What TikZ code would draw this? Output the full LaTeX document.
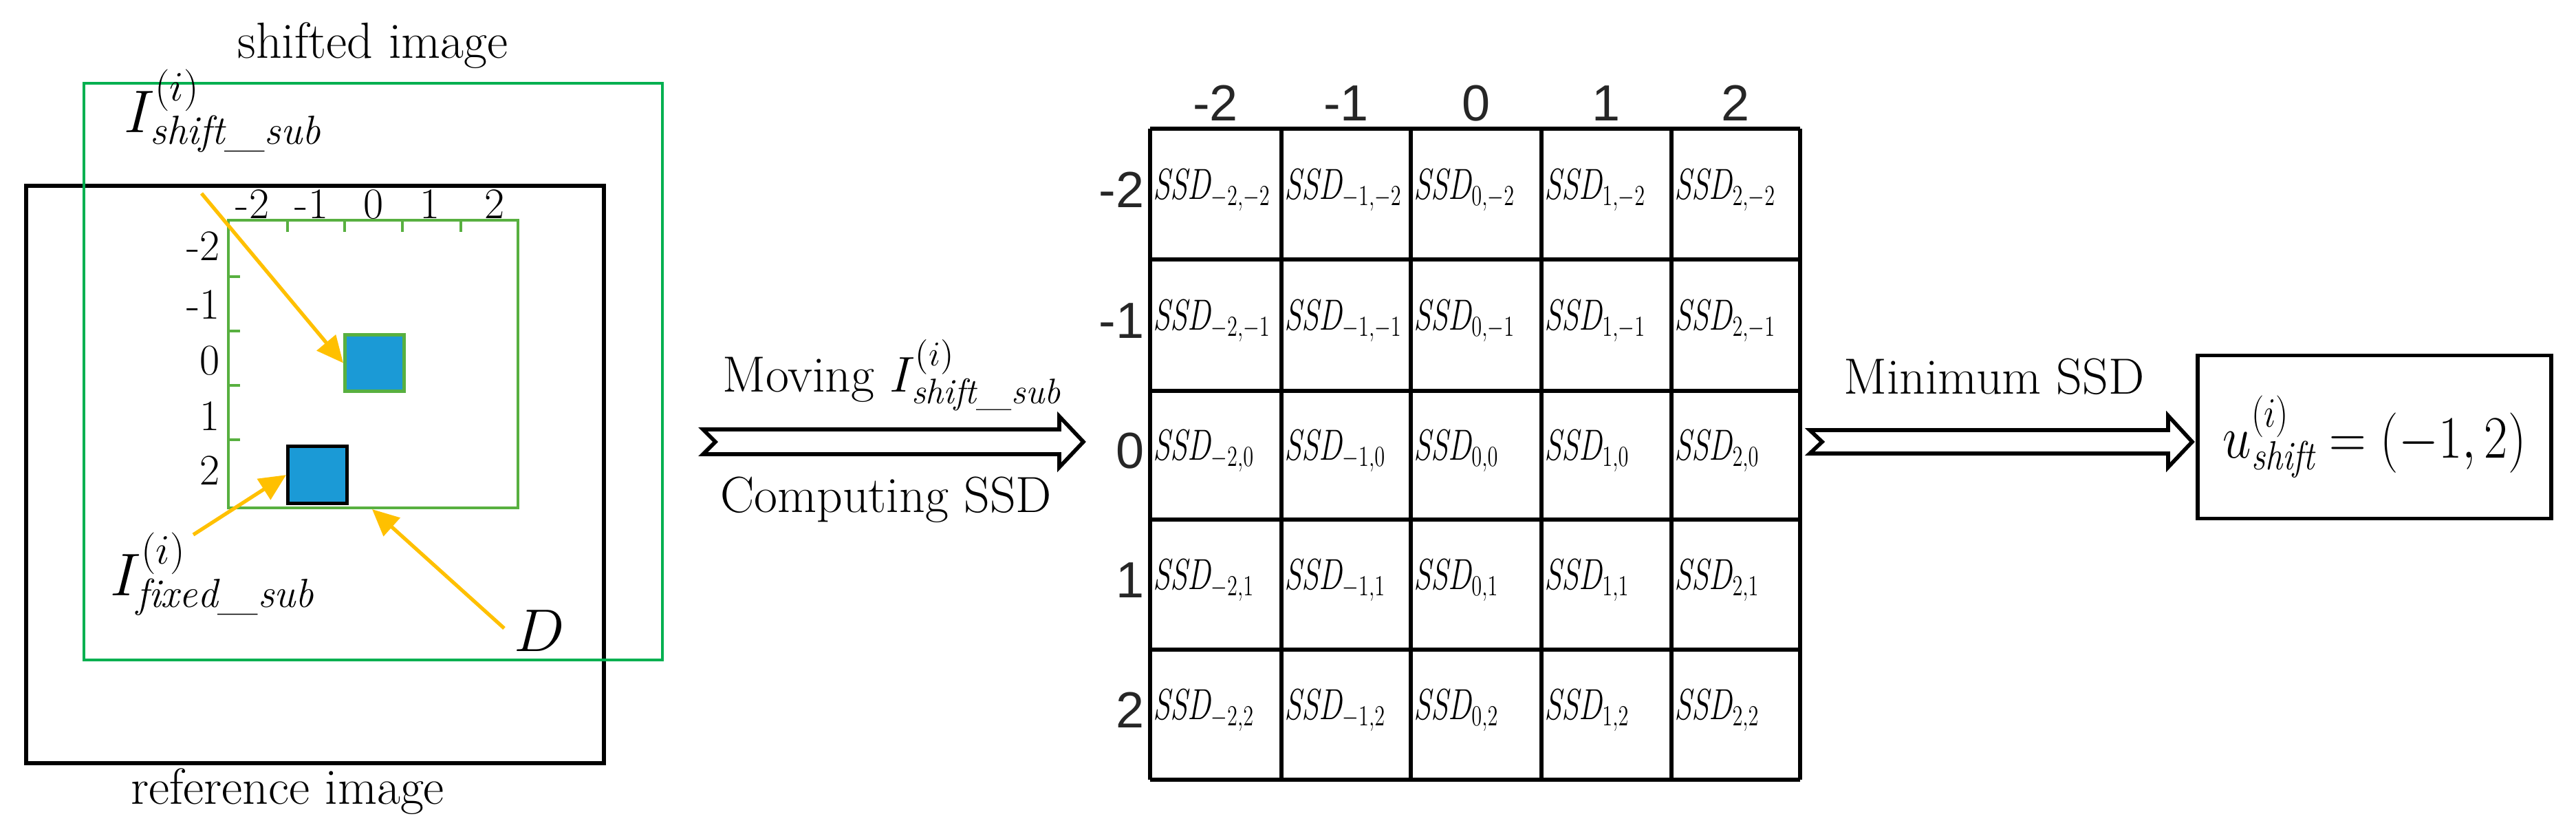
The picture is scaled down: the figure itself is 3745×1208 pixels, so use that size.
\documentclass[tikz,border=0pt]{standalone}
\usepackage{fontspec}
\usepackage{graphicx}
\newfontfamily\sansf{Liberation Sans}
\usetikzlibrary{arrows.meta}
\begin{document}
\begin{tikzpicture}[x=0.01cm,y=-0.01cm,
  dbl/.style={draw=black,line width=1.6pt,fill=white},
  lbl/.style={font=\fontsize{21}{24}\selectfont,inner sep=0pt},
  ax/.style={font=\fontsize{18}{20}\selectfont,inner sep=0pt},
  sax/.style={font=\sansf\fontsize{21}{24}\selectfont,text=black!85,inner sep=0pt},
  ssd/.style={font=\fontsize{18}{20}\selectfont,inner sep=0pt,anchor=west},
  oarr/.style={draw=org,line width=1.5pt,-{Triangle[length=11pt,width=10pt]}}]
\definecolor{gbig}{RGB}{0,176,80}
\definecolor{ginn}{RGB}{88,176,64}
\definecolor{blu}{RGB}{27,154,214}
\definecolor{org}{RGB}{255,192,0}
\useasboundingbox (0,0) rectangle (3745,1208);
% left panel
\draw[line width=1.6pt] (38,270) rectangle (878,1109);
\draw[draw=gbig,line width=1.4pt] (122,121) rectangle (963,959);
\draw[draw=ginn,line width=1.2pt] (332,320) rectangle (753,738);
\foreach \x in {418,501,585,670} \draw[draw=ginn,line width=1.2pt] (\x,320) -- (\x,337);
\foreach \y in {402,481,560,639} \draw[draw=ginn,line width=1.2pt] (332,\y) -- (349,\y);
\node[ax] (tx1) at (367,297) {-2};
\node[ax] (tx2) at (453,297) {-1};
\node[ax] (tx3) at (543,297) {0};
\node[ax] (tx4) at (625,297) {1};
\node[ax] (tx5) at (719,297) {2};
\node[ax,anchor=east] (ty1) at (320,358) {-2};
\node[ax,anchor=east] (ty2) at (320,443) {-1};
\node[ax,anchor=east] (ty3) at (320,524) {0};
\node[ax,anchor=east] (ty4) at (320,605) {1};
\node[ax,anchor=east] (ty5) at (320,684) {2};
\node[draw=ginn,fill=blu,line width=1.4pt,inner sep=0pt,anchor=north west,minimum width=0.86cm,minimum height=0.82cm] (b1) at (499,484) {};
\node[draw=black,fill=blu,line width=1.5pt,inner sep=0pt,anchor=north west,minimum width=0.86cm,minimum height=0.83cm] (b2) at (416,646) {};
\node[lbl] (shl) at (542,66) {shifted image};
\node[lbl] (rfl) at (418,1150) {reference image};
\node[font=\fontsize{24}{26}\selectfont,anchor=south west,inner sep=0pt] (ishift) at (180,222) {$I^{(i)}_{\mathit{shift\_sub}}$};
\node[font=\fontsize{24}{26}\selectfont,anchor=south west,inner sep=0pt] (ifixed) at (160,895) {$I^{(i)}_{\mathit{fixed\_sub}}$};
\node[font=\fontsize{28}{30}\selectfont,inner sep=0pt] (dl) at (784,917) {$D$};
\coordinate (s1) at (293,281);
\coordinate (f1) at (281,777);
\coordinate (d1) at (733,913);
\coordinate (d2) at (541,740);
\draw[oarr] (s1) -- (b1.west);
\draw[oarr] (f1) -- (b2.west);
\draw[oarr] (d1) -- (d2);
% arrow 1
\draw[dbl] (1022,624) -- (1540,624) -- (1540,605) -- (1575,642) -- (1540,679) -- (1540,660) -- (1022,660) -- (1040,642) -- cycle;
\node[lbl,anchor=west] (mv) at (1050,545) {Moving $I^{(i)}_{\mathit{shift\_sub}}$};
\node[lbl] (cp) at (1288,726) {Computing SSD};
% grid
\foreach \x in {1672,1863,2051,2241,2430,2617} \draw[line width=1.6pt] (\x,187) -- (\x,1133);
\foreach \y in {187,377,568,755,944,1133} \draw[line width=1.6pt] (1672,\y) -- (2617,\y);
\foreach \lab/\x in {-2/1767,-1/1957,0/2146,1/2335,2/2523} \node[sax] at (\x,150) {\lab};
\foreach \lab/\y in {-2/276,-1/466,0/655,1/843,2/1032} \node[sax,anchor=east] at (1664,\y) {\lab};
\foreach \r/\y in {-2/276,-1/466,0/655,1/843,2/1032}{
  \foreach \c/\x in {-2/1672,-1/1863,0/2051,1/2241,2/2430}{
    \node[ssd] (c\r\c) at (\x+4,\y) {\scalebox{0.72}[1]{$\mathit{SSD}_{\c,\r}$}};
  }
}
% arrow 2
\draw[dbl] (2631,625) -- (3152,625) -- (3152,604) -- (3187,642) -- (3152,679) -- (3152,659) -- (2631,659) -- (2649,642) -- cycle;
\node[lbl] (mn) at (2899,547) {Minimum SSD};
\node[draw=black,line width=1.6pt,minimum width=5.14cm,minimum height=2.37cm,font=\fontsize{24}{28}\selectfont] (res) at (3452,635) {\scalebox{0.85}[1]{$u^{(i)}_{\mathit{shift}}=\left(-1,2\right)$}};
\end{tikzpicture}
\end{document}
